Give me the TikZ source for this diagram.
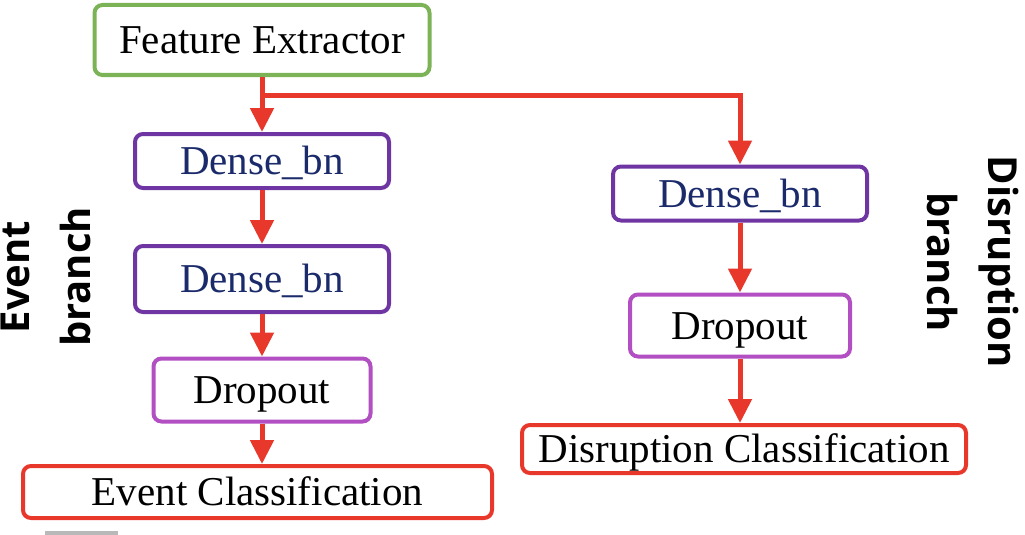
\documentclass[tikz,border=0pt]{standalone}
\usepackage{fontspec}
\setmainfont{Liberation Serif}
\newfontfamily\labfont{Open Sans}
\usetikzlibrary{arrows.meta}
\definecolor{fegreen}{HTML}{7DB357}
\definecolor{densepurple}{HTML}{6E35A3}
\definecolor{droppurple}{HTML}{B24FC2}
\definecolor{boxred}{HTML}{E8382C}
\definecolor{navytext}{HTML}{1A2A6A}
\tikzset{
  blk/.style={draw, line width=4pt, rounded corners=8pt, fill=white, inner sep=0pt,
    font=\fontsize{41}{41}\selectfont, text height=27pt, text depth=0pt, align=center},
  feblk/.style={blk, draw=fegreen, minimum width=335pt, minimum height=70pt},
  denseblk/.style={blk, draw=densepurple, text=navytext, minimum width=254pt},
  dropblk/.style={blk, draw=droppurple, minimum width=217pt},
  clsblk/.style={blk, draw=boxred},
  conn/.style={draw=boxred, line width=5pt, -{Triangle[width=23pt,length=24pt]}},
  brlabel/.style={font=\labfont\bfseries\fontsize{40}{61}\selectfont, align=center, inner sep=0pt}
}
\begin{document}
\begin{tikzpicture}[x=1pt,y=1pt]
\useasboundingbox (0,0) rectangle (1025,-535);
% nodes
\node[feblk] (fe) at (262,-40) {Feature Extractor};
\node[denseblk, minimum height=54pt] (d1) at (262,-161) {Dense\_bn};
\node[denseblk, minimum height=66pt] (d2) at (262,-279) {Dense\_bn};
\node[dropblk, minimum height=63pt] (p1) at (262,-390) {Dropout};
\node[clsblk, minimum width=469pt, minimum height=52pt] (ec) at (257.5,-492) {Event Classification};
\node[denseblk, minimum height=54pt] (d3) at (740,-193.5) {Dense\_bn};
\node[dropblk, minimum height=62pt, minimum width=220pt] (p2) at (740,-325.5) {Dropout};
\node[clsblk, minimum width=444pt, minimum height=48pt] (dc) at (744,-449) {Disruption Classification};
% branch labels
\node[brlabel, rotate=90] (evlab) at (46,-277) {Event\\branch};
\node[brlabel, rotate=-90] (dislab) at (973,-262) {Disruption\\branch};
% connectors
\coordinate (split) at (262,-95);
\draw[conn] (fe.south) -- (d1.north);
\draw[conn] (split) -| (d3.north);
\draw[conn] (d1.south) -- (d2.north);
\draw[conn] (d2.south) -- (p1.north);
\draw[conn] (p1.south) -- (p1.south |- ec.north);
\draw[conn] (d3.south) -- (p2.north);
\draw[conn] (p2.south) -- (p2.south |- dc.north);
% small grey mark at the bottom edge
\fill[gray!55] (45,-531) rectangle (118,-535);
\end{tikzpicture}
\end{document}
